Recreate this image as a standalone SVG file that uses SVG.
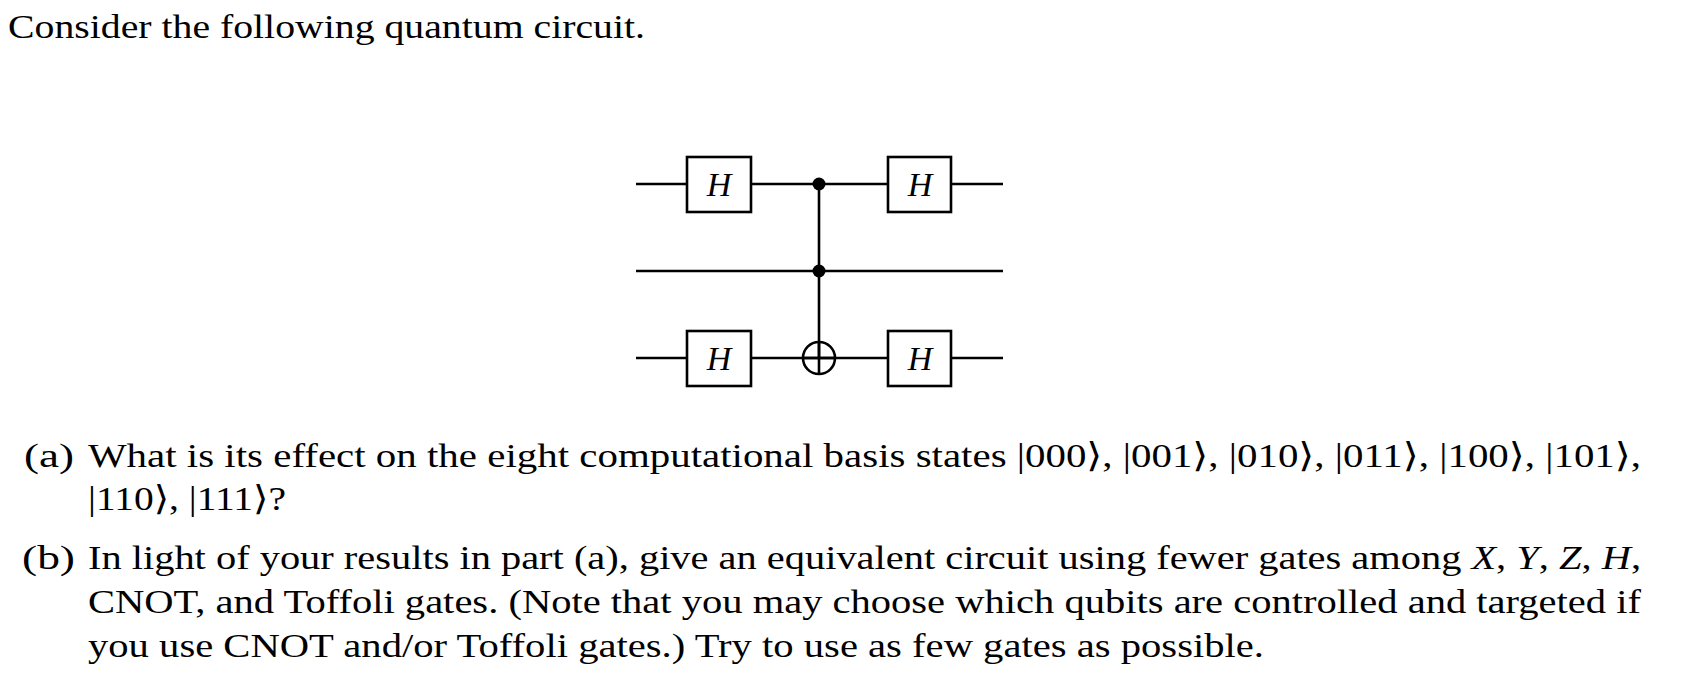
<svg xmlns="http://www.w3.org/2000/svg" width="1684" height="690" viewBox="0 0 1684 690">
<style>
text{font-family:"Liberation Serif","DejaVu Serif",serif;font-size:34px;fill:#000}
.w{stroke:#000;stroke-width:2.6;fill:none}
.g{stroke:#000;stroke-width:2.6;fill:#fff}
.i{font-style:italic}
</style>
<rect width="1684" height="690" fill="#fff"/>
<text x="8" y="38" textLength="637" lengthAdjust="spacingAndGlyphs">Consider the following quantum circuit.</text>
<g id="connectors">
<line class="w" x1="636" y1="184" x2="1003" y2="184"/>
<line class="w" x1="636" y1="271" x2="1003" y2="271"/>
<line class="w" x1="636" y1="358" x2="1003" y2="358"/>
<line class="w" x1="819" y1="184" x2="819" y2="358"/>
</g>
<g id="h1"><rect class="g" x="687" y="157" width="64" height="55"/><text class="i" x="719" y="196" text-anchor="middle">H</text></g>
<g id="h2"><rect class="g" x="888" y="157" width="63" height="55"/><text class="i" x="920" y="196" text-anchor="middle">H</text></g>
<g id="h3"><rect class="g" x="687" y="331" width="64" height="55"/><text class="i" x="719" y="370" text-anchor="middle">H</text></g>
<g id="h4"><rect class="g" x="888" y="331" width="63" height="55"/><text class="i" x="920" y="370" text-anchor="middle">H</text></g>
<g id="c1"><circle cx="819" cy="184" r="6.5"/></g>
<g id="c2"><circle cx="819" cy="271" r="6.5"/></g>
<g id="t"><circle class="w" cx="819" cy="358" r="16"/><line class="w" x1="803" y1="358" x2="835" y2="358"/><line class="w" x1="819" y1="342" x2="819" y2="374"/></g>
<text x="24" y="467" textLength="50" lengthAdjust="spacingAndGlyphs">(a)</text>
<text x="88" y="467" textLength="1553" lengthAdjust="spacingAndGlyphs">What is its effect on the eight computational basis states |000⟩, |001⟩, |010⟩, |011⟩, |100⟩, |101⟩,</text>
<text x="88" y="510" textLength="198" lengthAdjust="spacingAndGlyphs">|110⟩, |111⟩?</text>
<text x="22" y="569" textLength="53" lengthAdjust="spacingAndGlyphs">(b)</text>
<text x="88" y="569" textLength="1553" lengthAdjust="spacingAndGlyphs">In light of your results in part (a), give an equivalent circuit using fewer gates among <tspan class="i">X</tspan>, <tspan class="i">Y</tspan>, <tspan class="i">Z</tspan>, <tspan class="i">H</tspan>,</text>
<text x="88" y="613" textLength="1553" lengthAdjust="spacingAndGlyphs">CNOT, and Toffoli gates. (Note that you may choose which qubits are controlled and targeted if</text>
<text x="88" y="657" textLength="1176" lengthAdjust="spacingAndGlyphs">you use CNOT and/or Toffoli gates.) Try to use as few gates as possible.</text>
</svg>
